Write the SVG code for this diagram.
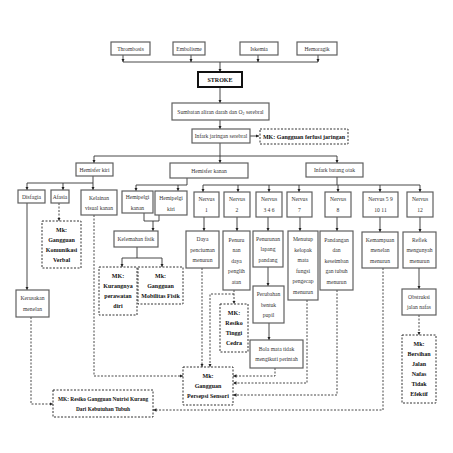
<svg xmlns="http://www.w3.org/2000/svg" width="453" height="453" viewBox="0 0 453 453">
<defs>
<marker id="a" viewBox="0 0 6 6" refX="6" refY="3" markerWidth="3.5" markerHeight="3.5" orient="auto" markerUnits="userSpaceOnUse"><path d="M0,0 L6,3 L0,6 z" fill="#222"/></marker>
<style>
.b{fill:#fff;stroke:#5f5f5f;stroke-width:1.2}
.d{fill:#fff;stroke:#333;stroke-width:1;stroke-dasharray:2 1.5}
.k{fill:#fff;stroke:#111;stroke-width:2}
text{font-family:"Liberation Serif","Times New Roman",serif;font-size:5.6px;fill:#333;text-anchor:middle}
.t{font-weight:bold;font-size:6px;fill:#111}
.c{fill:none;stroke:#333;stroke-width:0.9}
.cd{fill:none;stroke:#333;stroke-width:0.9;stroke-dasharray:2 1.5}
</style>
</defs>
<rect width="453" height="453" fill="#fff"/>

<g id="connectors">
<path class="c" d="M123,62H318"/>
<path class="c" d="M123,55V62" marker-end="url(#a)"/>
<path class="c" d="M191,55V62" marker-end="url(#a)"/>
<path class="c" d="M258,55V62" marker-end="url(#a)"/>
<path class="c" d="M318,55V62" marker-end="url(#a)"/>
<path class="c" d="M220,62V72" marker-end="url(#a)"/>
<path class="c" d="M220,87V103" marker-end="url(#a)"/>
<path class="c" d="M220,120V129" marker-end="url(#a)"/>
<path class="c" d="M250,136H259" marker-end="url(#a)"/>
<path class="c" d="M220,143V163" marker-end="url(#a)"/>
<path class="c" d="M94,156H337"/>
<path class="c" d="M94,156V163" marker-end="url(#a)"/>
<path class="c" d="M337,156V163" marker-end="url(#a)"/>
<path class="c" d="M27,183H93"/>
<path class="c" d="M93,176V190" marker-end="url(#a)"/>
<path class="c" d="M27,183V190" marker-end="url(#a)"/>
<path class="c" d="M63,183V190" marker-end="url(#a)"/>
<path class="c" d="M187,178V185H136"/>
<path class="c" d="M136,185V191" marker-end="url(#a)"/>
<path class="c" d="M178,185V191" marker-end="url(#a)"/>
<path class="c" d="M144,213V221H159V215"/>
<path class="c" d="M153,221V231" marker-end="url(#a)"/>
<path class="c" d="M137,247V258M122,258H162"/>
<path class="c" d="M122,258V267" marker-end="url(#a)"/>
<path class="c" d="M162,258V267" marker-end="url(#a)"/>
<path class="c" d="M203,185H420M337,177V185"/>
<path class="c" d="M203,185V192" marker-end="url(#a)"/>
<path class="c" d="M238,185V192" marker-end="url(#a)"/>
<path class="c" d="M269,185V192" marker-end="url(#a)"/>
<path class="c" d="M299,185V192" marker-end="url(#a)"/>
<path class="c" d="M338,185V192" marker-end="url(#a)"/>
<path class="c" d="M380,185V192" marker-end="url(#a)"/>
<path class="c" d="M420,185V192" marker-end="url(#a)"/>
<path class="c" d="M204,217V231" marker-end="url(#a)"/>
<path class="c" d="M237,217V231" marker-end="url(#a)"/>
<path class="c" d="M268,217V231" marker-end="url(#a)"/>
<path class="c" d="M300,217V231" marker-end="url(#a)"/>
<path class="c" d="M337,217V231" marker-end="url(#a)"/>
<path class="c" d="M380,217V232" marker-end="url(#a)"/>
<path class="c" d="M420,217V232" marker-end="url(#a)"/>
<path class="c" d="M268,267V286" marker-end="url(#a)"/>
<path class="c" d="M269,323V340" marker-end="url(#a)"/>
<path class="c" d="M419,268V289" marker-end="url(#a)"/>
<path class="cd" d="M419,315V335" marker-end="url(#a)"/>
<path class="c" d="M27,203V290" marker-end="url(#a)"/>
<path class="cd" d="M31,317V404H53" marker-end="url(#a)"/>
<path class="cd" d="M59,203V221" marker-end="url(#a)"/>
<path class="cd" d="M94,215V376H183" marker-end="url(#a)"/>
<path class="cd" d="M202,268V367" marker-end="url(#a)"/>
<path class="cd" d="M234,290V304" marker-end="url(#a)"/>
<path class="cd" d="M234,294H210V367" marker-end="url(#a)"/>
<path class="cd" d="M275,368V376H233" marker-end="url(#a)"/>
<path class="cd" d="M307,300V383H233" marker-end="url(#a)"/>
<path class="cd" d="M337,290V395H233" marker-end="url(#a)"/>
<path class="cd" d="M383,268V410H153" marker-end="url(#a)"/>
</g>

<g id="thrombosis"><rect class="b" x="111" y="42" width="39" height="13"/><text x="130.5" y="50.5">Thrombosis</text></g>
<g id="embolisme"><rect class="b" x="173" y="42" width="32" height="13"/><text x="189" y="50.5">Embolisme</text></g>
<g id="iskemia"><rect class="b" x="240" y="42" width="38" height="13"/><text x="259" y="50.5">Iskemia</text></g>
<g id="hemoragik"><rect class="b" x="297" y="42" width="40" height="13"/><text x="317" y="50.5">Hemoragik</text></g>
<g id="stroke"><rect class="k" x="198" y="72" width="44" height="15"/><text class="t" x="220" y="82">STROKE</text></g>
<g id="sumbatan"><rect class="b" x="172" y="103" width="97" height="17"/><text x="220.5" y="113.5">Sumbatan aliran darah dan O<tspan font-size="4" dy="1.2">2</tspan><tspan dy="-1.2"> serebral</tspan></text></g>
<g id="infark-jaringan"><rect class="b" x="192" y="129" width="58" height="14"/><text x="221" y="138">Infark jaringan serebral</text></g>
<g id="mk-ferfusi"><rect class="d" x="260" y="129" width="88" height="15"/><text class="t" x="304" y="138.5">MK: Gangguan ferfusi jaringan</text></g>

<g id="hemisfer-kiri"><rect class="b" x="76" y="163" width="37" height="13"/><text x="94.5" y="171.5">Hemisfer kiri</text></g>
<g id="hemisfer-kanan"><rect class="b" x="170" y="163" width="78" height="15"/><text x="209" y="172.5">Hemisfer kanan</text></g>
<g id="infark-batang"><rect class="b" x="306" y="163" width="57" height="14"/><text x="334.5" y="172">Infark batang otak</text></g>

<g id="disfagia"><rect class="b" x="18" y="190" width="27" height="13"/><text x="31.5" y="198.5">Disfagia</text></g>
<g id="afasia"><rect class="b" x="51" y="190" width="18" height="13"/><text x="60" y="198.5">Afasia</text></g>
<g id="kelainan"><rect class="b" x="81" y="190" width="36" height="25"/><text x="99" y="199.5">Kelainan</text><text x="99" y="210">visual kanan</text></g>
<g id="hemipelgi-kanan"><rect class="b" x="122" y="191" width="31" height="22"/><text x="137.5" y="199">Hemipelgi</text><text x="137.5" y="209.5">kanan</text></g>
<g id="hemipelgi-kiri"><rect class="b" x="155" y="191" width="32" height="24"/><text x="171" y="200">Hemipelgi</text><text x="171" y="210.5">kiri</text></g>

<g id="nervus1"><rect class="b" x="194" y="192" width="25" height="25"/><text x="206.5" y="201.3">Nervus</text><text x="206.5" y="211.8">1</text></g>
<g id="nervus2"><rect class="b" x="224" y="192" width="26" height="25"/><text x="237" y="201.3">Nervus</text><text x="237" y="211.8">2</text></g>
<g id="nervus346"><rect class="b" x="256" y="192" width="26" height="25"/><text x="269" y="201.3">Nervus</text><text x="269" y="211.8">3 4 6</text></g>
<g id="nervus7"><rect class="b" x="287" y="192" width="25" height="25"/><text x="299.5" y="201.3">Nervus</text><text x="299.5" y="211.8">7</text></g>
<g id="nervus8"><rect class="b" x="325" y="192" width="26" height="25"/><text x="338" y="201.3">Nervus</text><text x="338" y="211.8">8</text></g>
<g id="nervus591011"><rect class="b" x="363" y="192" width="35" height="25"/><text x="380.5" y="201.3">Nervus 5 9</text><text x="380.5" y="211.8">10 11</text></g>
<g id="nervus12"><rect class="b" x="407" y="192" width="26" height="25"/><text x="420" y="201.3">Nervus</text><text x="420" y="211.8">12</text></g>

<g id="kelemahan"><rect class="b" x="114" y="231" width="44" height="16"/><text x="136" y="241">Kelemahan fisik</text></g>
<g id="daya"><rect class="b" x="186" y="231" width="33" height="37"/><text x="202.5" y="241">Daya</text><text x="202.5" y="251.5">penciuman</text><text x="202.5" y="262">menurun</text></g>
<g id="penglihatan"><rect class="b" x="223" y="231" width="27" height="59"/><text x="236.5" y="241.5">Penuru</text><text x="236.5" y="252">nan</text><text x="236.5" y="262.5">daya</text><text x="236.5" y="273">penglih</text><text x="236.5" y="283.5">atan</text></g>
<g id="lapang"><rect class="b" x="253" y="231" width="30" height="36"/><text x="268" y="240.5">Penurunan</text><text x="268" y="251">lapang</text><text x="268" y="261.5">pandang</text></g>
<g id="menutup"><rect class="b" x="288" y="231" width="30" height="69"/><text x="303" y="241.3">Menutup</text><text x="303" y="251.8">kelopak</text><text x="303" y="262.3">mata</text><text x="303" y="272.8">fungsi</text><text x="303" y="283.3">pengecap</text><text x="303" y="293.8">menurun</text></g>
<g id="pandangan"><rect class="b" x="320" y="231" width="33" height="59"/><text x="336.5" y="241.5">Pandangan</text><text x="336.5" y="252">dan</text><text x="336.5" y="262.5">keseimban</text><text x="336.5" y="273">gan tubuh</text><text x="336.5" y="283.5">menurun</text></g>
<g id="kemampuan"><rect class="b" x="362" y="232" width="36" height="36"/><text x="380" y="241.5">Kemampuan</text><text x="380" y="252">menelan</text><text x="380" y="262.5">menurun</text></g>
<g id="reflek"><rect class="b" x="403" y="232" width="33" height="36"/><text x="419.5" y="241.5">Reflek</text><text x="419.5" y="252">mengunyah</text><text x="419.5" y="262.5">menurun</text></g>

<g id="perubahan"><rect class="b" x="253" y="286" width="31" height="37"/><text x="268.5" y="296">Perubahan</text><text x="268.5" y="306.5">bentuk</text><text x="268.5" y="317">pupil</text></g>
<g id="bola-mata"><rect class="b" x="250" y="340" width="53" height="28"/><text x="276.5" y="350.8">Bola mata tidak</text><text x="276.5" y="361.3">mengikuti perintah</text></g>
<g id="obstruksi"><rect class="b" x="402" y="289" width="34" height="26"/><text x="419" y="298.8">Obstruksi</text><text x="419" y="309.3">jalan nafas</text></g>
<g id="mk-bersihan"><rect class="d" x="402" y="335" width="34" height="68"/><text class="t" x="419" y="346">Mk:</text><text class="t" x="419" y="356">Bersihan</text><text class="t" x="419" y="366">Jalan</text><text class="t" x="419" y="376">Nafas</text><text class="t" x="419" y="386">Tidak</text><text class="t" x="419" y="396">Efektif</text></g>

<g id="mk-cedra"><rect class="d" x="220" y="304" width="28" height="48"/><text class="t" x="234" y="315">MK:</text><text class="t" x="234" y="325">Resiko</text><text class="t" x="234" y="335">Tinggi</text><text class="t" x="234" y="345">Cedra</text></g>
<g id="mk-persepsi"><rect class="d" x="183" y="367" width="50" height="38"/><text class="t" x="208" y="378">Mk:</text><text class="t" x="208" y="388">Gangguan</text><text class="t" x="208" y="398">Persepsi Sensori</text></g>
<g id="mk-nutrisi"><rect class="d" x="53" y="390" width="100" height="27"/><text class="t" x="103" y="400.5" style="font-size:5.4px">MK: Resiko Gangguan Nutrisi Kurang</text><text class="t" x="103" y="410.5" style="font-size:5.4px">Dari Kebutuhan Tubuh</text></g>
<g id="kerusakan"><rect class="b" x="16" y="290" width="33" height="27"/><text x="32.5" y="300.3">Kerusakan</text><text x="32.5" y="310.8">menelan</text></g>
<g id="mk-komunikasi"><rect class="d" x="42" y="221" width="39" height="47"/><text class="t" x="61.5" y="231.5">Mk:</text><text class="t" x="61.5" y="241.5">Gangguan</text><text class="t" x="61.5" y="251.5">Komunikasi</text><text class="t" x="61.5" y="261.5">Verbal</text></g>
<g id="mk-kurangnya"><rect class="d" x="99" y="267" width="38" height="48"/><text class="t" x="118" y="278">MK:</text><text class="t" x="118" y="288">Kurangnya</text><text class="t" x="118" y="298">perawatan</text><text class="t" x="118" y="308">diri</text></g>
<g id="mk-mobilitas"><rect class="d" x="138" y="267" width="45" height="37"/><text class="t" x="160.5" y="277.5">Mk:</text><text class="t" x="160.5" y="287.5">Gangguan</text><text class="t" x="160.5" y="297.5">Mobilitas Fisik</text></g>
</svg>
